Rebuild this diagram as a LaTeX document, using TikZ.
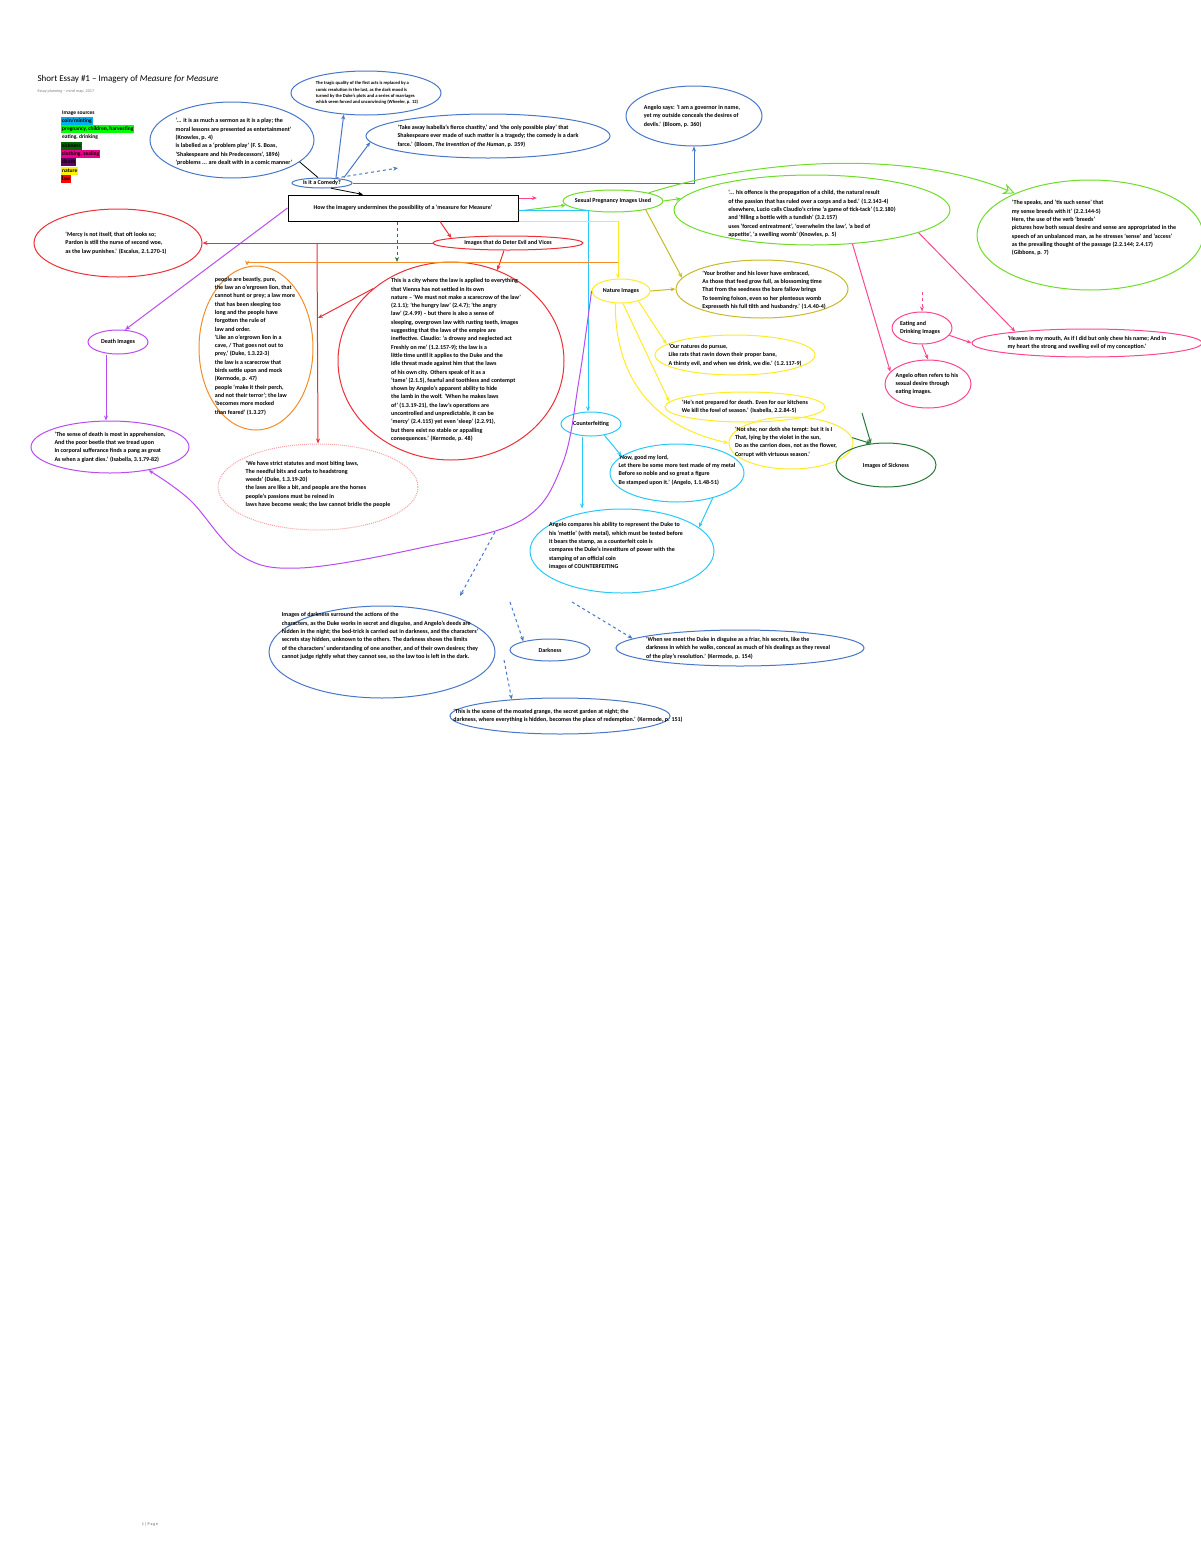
\documentclass[tikz,border=0pt]{standalone}
\usepackage{fontspec}
\setmainfont{Carlito}
\usetikzlibrary{shapes.geometric,arrows.meta,positioning}

\definecolor{mapblue}{RGB}{72,118,200}
\definecolor{mapred}{RGB}{236,48,56}
\definecolor{maporange}{RGB}{245,140,40}
\definecolor{mapgreen}{RGB}{110,220,40}
\definecolor{mappink}{RGB}{255,70,140}
\definecolor{mapolive}{RGB}{200,185,40}
\definecolor{mapyellow}{RGB}{255,235,40}
\definecolor{mapcyan}{RGB}{40,200,250}
\definecolor{mapdark}{RGB}{40,120,60}
\definecolor{mapviolet}{RGB}{185,75,240}
\definecolor{mapdot}{RGB}{245,160,160}

\tikzset{
  bubble/.style={ellipse, draw, line width=1pt, inner sep=0pt},
  quotetxt/.style={font=\fontsize{6}{8.3}\selectfont\bfseries, align=left, inner sep=0pt, text=black},
  tinytxt/.style={font=\fontsize{4.6}{6.3}\selectfont\bfseries, align=left, inner sep=0pt, text=black},
  maplink/.style={line width=1pt, -{Stealth[length=5pt,width=4pt]}},
  keyrow/.style={anchor=west, inner sep=1pt, font=\fontsize{5.5}{6}\selectfont\bfseries, minimum height=7.6pt}
}

\begin{document}
\begin{tikzpicture}[x=1pt, y=-1pt]
\useasboundingbox (0,0) rectangle (1200,1553);

% title
\node[anchor=west, font=\fontsize{9}{10}\selectfont] (title) at (34,79) {Short Essay \#1 -- Imagery of \textit{Measure for Measure}};
\node[anchor=west, font=\fontsize{4.2}{5}\selectfont, gray] (subtitle) at (34,91) {Essay planning -- mind map, 2017};

% legend
\node[keyrow] (k0) at (61,113) {Image sources};
\node[keyrow, fill=cyan] (k1) at (61,121) {coin/minting};
\node[keyrow, fill=green] (k2) at (61,129) {pregnancy, children, harvesting};
\node[keyrow] (k3) at (61,137) {eating, drinking};
\node[keyrow, fill=green!40!black] (k4) at (61,146) {sickness};
\node[keyrow, fill=magenta] (k5) at (61,154) {clothing, sealing};
\node[keyrow, fill=violet!80!black] (k6) at (61,162) {death};
\node[keyrow, fill=yellow] (k7) at (61,171) {nature};
\node[keyrow, fill=red] (k8) at (61,179) {law};

% genre
\node[bubble, mapblue, minimum width=164pt, minimum height=76pt] (genre) at (232,140) {};
\node[quotetxt] (genretxt) at (234,142) {`... it is as much a sermon as it is a play; the\\ moral lessons are presented as entertainment'\\ (Knowles, p. 4)\\ is labelled as a `problem play' (F. S. Boas,\\ `Shakespeare and his Predecessors', 1896)\\ `problems ... are dealt with in a comic manner'};
\node[bubble, mapblue, minimum width=150pt, minimum height=44pt] (tragic) at (366,93) {};
\node[tinytxt] (tragictxt) at (367,93) {The tragic quality of the first acts is replaced by a\\ comic resolution in the last, as the dark mood is\\ turned by the Duke's plots and a series of marriages\\ which seem forced and unconvincing (Wheeler, p. 12)};
\node[bubble, mapblue, minimum width=244pt, minimum height=44pt] (chaste) at (488,136) {};
\node[quotetxt] (chastetxt) at (488,136) {`Take away Isabella's fierce chastity,' and `the only possible play' that\\ Shakespeare ever made of such matter is a tragedy; the comedy is a dark\\ farce.' (Bloom, \textit{The Invention of the Human}, p. 359)};
\node[bubble, mapblue, minimum width=136pt, minimum height=60pt] (outside) at (694,116) {};
\node[quotetxt] (outsidetxt) at (692,116) {Angelo says: `I am a governor in name,\\ yet my outside conceals the desires of\\ devils.' (Bloom, p. 360)};
\node[bubble, mapblue, minimum width=60pt, minimum height=10pt] (comedy) at (322,183) {};
\node[quotetxt] (comedytxt) at (322,183) {Is it a Comedy?};

% focus
\node[draw, line width=1pt, minimum width=230pt, minimum height=26pt, font=\fontsize{6}{8}\selectfont\bfseries] (focus) at (403,208) {How the imagery undermines the possibility of a `measure for Measure'};

% law
\node[bubble, mapred, minimum width=150pt, minimum height=14pt] (deter) at (508,243) {};
\node[quotetxt] (detertxt) at (508,243) {Images that do Deter Evil and Vices};
\node[bubble, mapred, minimum width=168pt, minimum height=68pt] (mercy) at (118,243) {};
\node[quotetxt] (mercytxt) at (116,243) {`Mercy is not itself, that oft looks so;\\ Pardon is still the nurse of second woe,\\ as the law punishes.' (Escalus, 2.1.270-1)};
\node[bubble, mapred, minimum width=226pt, minimum height=198pt] (hungry) at (451,361) {};
\node[quotetxt] (hungrytxt) at (456,360) {This is a city where the law is applied to everything\\ that Vienna has not settled in its own\\ nature -- `We must not make a scarecrow of the law'\\ (2.1.1); `the hungry law' (2.4.7); `the angry\\ law' (2.4.99) -- but there is also a sense of\\ sleeping, overgrown law with rusting teeth, images\\ suggesting that the laws of the empire are\\ ineffective. Claudio: `a drowsy and neglected act\\ Freshly on me' (1.2.157-9); the law is a\\ little time until it applies to the Duke and the\\ idle threat made against him that the laws\\ of his own city. Others speak of it as a\\ `tame' (2.1.5), fearful and toothless and contempt\\ shown by Angelo's apparent ability to hide\\ the lamb in the wolf. `When he makes laws\\ of' (1.3.19-21), the law's operations are\\ uncontrolled and unpredictable, it can be\\ `mercy' (2.4.115) yet even `sleep' (2.2.91),\\ but there exist no stable or appalling\\ consequences.' (Kermode, p. 48)};
\node[bubble, maporange, minimum width=114pt, minimum height=164pt] (beast) at (256,348) {};
\node[quotetxt] (beasttxt) at (255,346) {people are beastly, pure,\\ the law an o'ergrown lion, that\\ cannot hunt or prey; a law more\\ that has been sleeping too\\ long and the people have\\ forgotten the rule of\\ law and order.\\ `Like an o'ergrown lion in a\\ cave, / That goes not out to\\ prey,' (Duke, 1.3.22-3)\\ the law is a scarecrow that\\ birds settle upon and mock\\ (Kermode, p. 47)\\ people `make it their perch,\\ and not their terror'; the law\\ `becomes more mocked\\ than feared' (1.3.27)};
\node[bubble, mapdot, densely dotted, minimum width=200pt, minimum height=86pt] (statutes) at (318,487) {};
\node[quotetxt] (statutestxt) at (318,484) {`We have strict statutes and most biting laws,\\ The needful bits and curbs to headstrong\\ weeds' (Duke, 1.3.19-20)\\ the laws are like a bit, and people are the horses\\ people's passions must be reined in\\ laws have become weak; the law cannot bridle the people};

% death
\node[bubble, mapviolet, minimum width=60pt, minimum height=24pt] (death) at (118,342) {};
\node[quotetxt] (deathtxt) at (118,342) {Death Images};
\node[bubble, mapviolet, minimum width=158pt, minimum height=52pt] (beetle) at (110,447) {};
\node[quotetxt] (beetletxt) at (110,447) {`The sense of death is most in apprehension,\\ And the poor beetle that we tread upon\\ In corporal sufferance finds a pang as great\\ As when a giant dies.' (Isabella, 3.1.79-82)};

% pregnancy
\node[bubble, mapgreen, minimum width=100pt, minimum height=22pt] (sexual) at (613,201) {};
\node[quotetxt] (sexualtxt) at (613,201) {Sexual Pregnancy Images Used};
\node[bubble, mapgreen, minimum width=276pt, minimum height=70pt] (tundish) at (812,210) {};
\node[quotetxt] (tundishtxt) at (812,214) {`... his offence is the propagation of a child, the natural result\\ of the passion that has ruled over a corps and a bed.' (1.2.143-4)\\ elsewhere, Lucio calls Claudio's crime `a game of tick-tack' (1.2.180)\\ and `filling a bottle with a tundish' (3.2.157)\\ uses `forced entreatment', `overwhelm the law', `a bed of\\ appetite', `a swelling womb' (Knowles, p. 5)};
\node[bubble, mapgreen, minimum width=226pt, minimum height=110pt] (woman) at (1090,235) {};
\node[quotetxt] (womantxt) at (1094,228) {`The speaks, and `tis such sense' that\\ my sense breeds with it' (2.2.144-5)\\ Here, the use of the verb `breeds'\\ pictures how both sexual desire and sense are appropriated in the\\ speech of an unbalanced man, as he stresses `sense' and `access'\\ as the prevailing thought of the passage (2.2.144; 2.4.17)\\ (Gibbons, p. 7)};

% nature
\node[bubble, mapyellow, minimum width=58pt, minimum height=24pt] (nature) at (621,291) {};
\node[quotetxt] (naturetxt) at (621,291) {Nature Images};
\node[bubble, mapolive, minimum width=172pt, minimum height=58pt] (womb) at (762,289) {};
\node[quotetxt] (wombtxt) at (764,290) {`Your brother and his lover have embraced,\\ As those that feed grow full, as blossoming time\\ That from the seedness the bare fallow brings\\ To teeming foison, even so her plenteous womb\\ Expresseth his full tilth and husbandry.' (1.4.40-4)};
\node[bubble, mapyellow, minimum width=160pt, minimum height=40pt] (rats) at (735,355) {};
\node[quotetxt] (ratstxt) at (735,355) {\hfill`Our natures do pursue,\hfill\null\\ Like rats that ravin down their proper bane,\\ A thirsty evil, and when we drink, we die.' (1.2.117-9)};
\node[bubble, mapyellow, minimum width=160pt, minimum height=30pt] (kitchen) at (745,407) {};
\node[quotetxt] (kitchentxt) at (745,407) {`He's not prepared for death. Even for our kitchens\\ We kill the fowl of season.' (Isabella, 2.2.84-5)};
\node[bubble, mapyellow, minimum width=124pt, minimum height=52pt] (carrion) at (791,443) {};
\node[quotetxt] (carriontxt) at (786,442) {`Not she; nor doth she tempt: but it is I\\ That, lying by the violet in the sun,\\ Do as the carrion does, not as the flower,\\ Corrupt with virtuous season.'};

% sickness
\node[bubble, mapdark, minimum width=100pt, minimum height=44pt] (sick) at (886,465) {};
\node[quotetxt] (sicktxt) at (886,466) {Images of Sickness};

% eating
\node[bubble, mappink, minimum width=60pt, minimum height=32pt] (eating) at (922,328) {};
\node[quotetxt] (eatingtxt) at (920,328) {Eating and\\ Drinking Images};
\node[bubble, mappink, minimum width=230pt, minimum height=28pt] (heaven) at (1087,343) {};
\node[quotetxt] (heaventxt) at (1087,343) {`Heaven in my mouth, As if I did but only chew his name; And in\\ my heart the strong and swelling evil of my conception.'};
\node[bubble, mappink, minimum width=86pt, minimum height=48pt] (appetite) at (928,384) {};
\node[quotetxt] (appetitetxt) at (927,384) {Angelo often refers to his\\ sexual desire through\\ eating images.};

% coin
\node[bubble, mapcyan, minimum width=60pt, minimum height=24pt] (coin) at (591,424) {};
\node[quotetxt] (cointxt) at (591,424) {Counterfeiting};
\node[bubble, mapcyan, minimum width=134pt, minimum height=58pt] (metal) at (677,473) {};
\node[quotetxt] (metaltxt) at (677,470) {\hfill`Now, good my lord,\\ Let there be some more test made of my metal\\ Before so noble and so great a figure\\ Be stamped upon it.' (Angelo, 1.1.48-51)};
\node[bubble, mapcyan, minimum width=184pt, minimum height=84pt] (stamp) at (622,551) {};
\node[quotetxt] (stamptxt) at (616,546) {Angelo compares his ability to represent the Duke to\\ his `mettle' (with metal), which must be tested before\\ it bears the stamp, as a counterfeit coin is\\ compares the Duke's investiture of power with the\\ stamping of an official coin\\ images of COUNTERFEITING};

% darkness
\node[bubble, mapblue, minimum width=226pt, minimum height=92pt] (shadow) at (382,652) {};
\node[quotetxt] (shadowtxt) at (380,636) {Images of darkness surround the actions of the\\ characters, as the Duke works in secret and disguise, and Angelo's deeds are\\ hidden in the night; the bed-trick is carried out in darkness, and the characters'\\ secrets stay hidden, unknown to the others. The darkness shows the limits\\ of the characters' understanding of one another, and of their own desires; they\\ cannot judge rightly what they cannot see, so the law too is left in the dark.};
\node[bubble, mapblue, minimum width=80pt, minimum height=22pt] (darkness) at (550,650) {};
\node[quotetxt] (darknesstxt) at (550,650) {Darkness};
\node[bubble, mapblue, minimum width=248pt, minimum height=36pt] (night) at (740,648) {};
\node[quotetxt] (nighttxt) at (738,648) {`When we meet the Duke in disguise as a friar, his secrets, like the\\ darkness in which he walks, conceal as much of his dealings as they reveal\\ of the play's resolution.' (Kermode, p. 154)};
\node[bubble, mapblue, minimum width=220pt, minimum height=36pt] (moated) at (560,716) {};
\node[quotetxt] (moatedtxt) at (568,716) {`This is the scene of the moated grange, the secret garden at night; the\\ darkness, where everything is hidden, becomes the place of redemption.' (Kermode, p. 151)};

% loose arrow ends
\coordinate (pinkend) at (537,198);
\coordinate (greenhint) at (397,262);
\coordinate (lawjoin) at (317,243);
\coordinate (lawmid) at (318,318);
\coordinate (lionjoin) at (618,262);
\coordinate (genrehint) at (398,168);
\coordinate (sickfrom) at (862,413);
\coordinate (eathint) at (922,292);
\coordinate (dashA) at (495,532);
\coordinate (dashAend) at (460,596);
\coordinate (dashB) at (510,602);
\coordinate (dashC) at (572,602);
\coordinate (dashD) at (504,660);

% genre links
\draw[line width=0.8pt] ([xshift=-4pt]comedy.north) -- (genre.-18);
\draw[maplink, mapblue] ([xshift=14pt]comedy.north) -- (tragic.-136);
\draw[maplink, mapblue] ([xshift=22pt]comedy.north) -- (chaste.183);
\draw[maplink, mapblue, dashed] (comedy.20) -- (genrehint);
\draw[maplink, mapblue] (comedy.east) -| (outside.south);
\draw[maplink, black, line width=0.8pt] (comedy.-30) -- ([xshift=-40pt]focus.north);

% focus links
\draw[maplink, mappink] ([yshift=10pt]focus.east) -- (pinkend);
\draw[maplink, mapgreen] ([yshift=-3pt]focus.east) -- (sexual.185);
\draw[maplink, mapcyan] ([yshift=-2pt]focus.east) -| ([xshift=-3pt]coin.north);
\draw[maplink, mapyellow] (focus.south east) -| ([xshift=-3pt]nature.north);
\draw[maplink, mapred] ([xshift=37pt]focus.south) -- (deter.175);
\draw[maplink, mapdark, dashed] ([xshift=-6pt]focus.south) -- (greenhint);
\draw[maplink, mapviolet] (focus.west) -- (death.60);

% law links
\draw[maplink, mapred] (deter.west) -- (mercy.east);
\draw[maplink, mapred] (lawjoin) -- (statutes.north);
\draw[maplink, mapred] (hungry.137) -- (lawmid);
\draw[maplink, mapred] ([xshift=-4pt]deter.south) -- (hungry.63);
\draw[maplink, maporange] (lionjoin) -| ([xshift=-9pt]beast.north);

% death links
\draw[maplink, mapviolet] ([xshift=-12pt]death.south) -- ([xshift=-12pt]death.south |- beetle.north);
\draw[maplink, mapviolet] plot[smooth, tension=0.6] coordinates {(nature.west) (579,380) (562,465) (522,520) (420,548) (300,568) (240,555) (190,500) (beetle.-31)};

% pregnancy links
\draw[maplink, mapgreen] (sexual.east) -- (tundish.175);
\draw[mapgreen, line width=1pt, -{Stealth[length=12pt,width=11pt,open]}] (sexual.north east) .. controls (760,158) and (910,150) .. (woman.151);
\draw[maplink, mapolive] (sexual.-15) -- (womb.172);
\draw[maplink, mappink] (tundish.-40) -- (appetite.162);
\draw[maplink, mappink] (tundish.-12) -- (heaven.171);

% nature links
\draw[maplink, mapolive] (nature.east) -- (womb.west);
\draw[maplink, mapyellow] (nature.-30) -- (rats.171);
\draw[maplink, mapyellow] ([xshift=2pt]nature.south) -- (kitchen.176);
\draw[maplink, mapyellow] (nature.-115) .. controls (615,385) and (660,428) .. (carrion.west);
\draw[maplink, mapdark] (carrion.5) -- (sick.125);
\draw[maplink, mapdark] (sickfrom) -- (sick.125);

% eating links
\draw[maplink, mappink, dashed] (eathint) -- (eating.north);
\draw[maplink, mappink] (eating.-15) -- (heaven.west);
\draw[maplink, mappink] (eating.south) -- (appetite.north);

% coin links
\draw[maplink, mapcyan] ([xshift=-9pt]coin.south) -- ([xshift=-9pt]coin.south |- stamp.north);
\draw[maplink, mapcyan] (coin.-40) -- (metal.163);
\draw[maplink, mapcyan] (metal.-35) -- (stamp.17);

% darkness links
\draw[maplink, mapblue, dashed] (dashA) -- (dashAend);
\draw[maplink, mapblue, dashed] (dashB) -- (darkness.162);
\draw[maplink, mapblue, dashed] (dashC) -- (night.175);
\draw[maplink, mapblue, dashed] (dashD) -- (moated.161);

% page number
\node[font=\fontsize{4}{5}\selectfont, gray!70!black] (pageno) at (150,1524) {1 | P a g e};
\end{tikzpicture}
\end{document}
